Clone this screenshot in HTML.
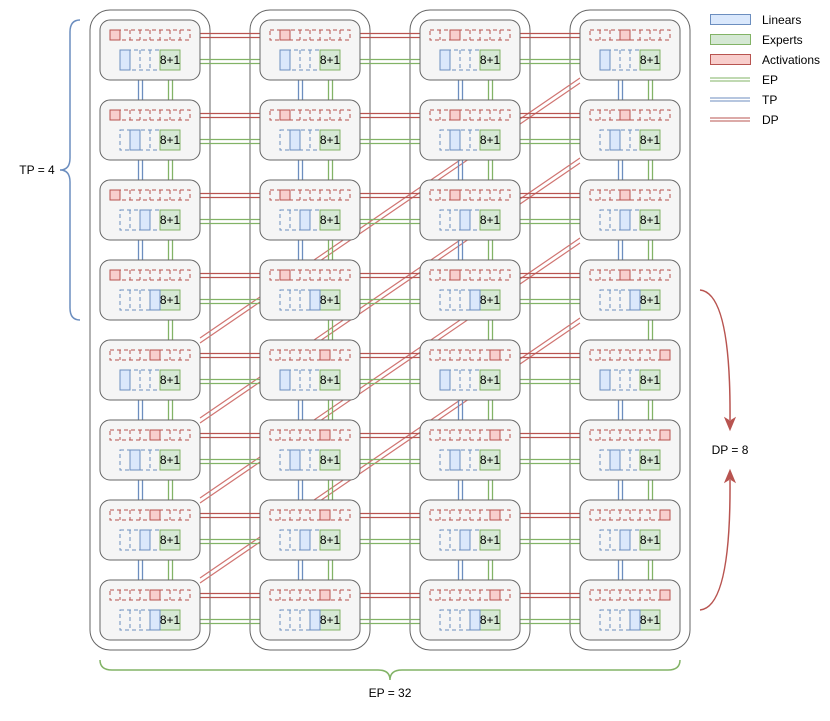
<!DOCTYPE html>
<html><head><meta charset="utf-8"><style>
html,body{margin:0;padding:0;background:#fff;}
svg{display:block;font-family:"Liberation Sans",sans-serif;}
.t{font-size:12px;text-anchor:middle;fill:#000;}
</style></head><body>
<svg width="830" height="721" viewBox="0 0 830 721" xmlns="http://www.w3.org/2000/svg">
<defs>
<g id="b">
<rect x="0" y="0" width="100" height="60" rx="10" fill="#f5f5f5" stroke="#666" stroke-width="1"/>
<path d="M10 10h80v10h-80zM20 10v10M30 10v10M40 10v10M50 10v10M60 10v10M70 10v10M80 10v10" fill="none" stroke="#b85450" stroke-width="1" stroke-dasharray="4 3"/>
<path d="M20 30h40v20h-40zM30 30v20M40 30v20M50 30v20" fill="none" stroke="#6c8ebf" stroke-width="1" stroke-dasharray="4 3"/>
<rect x="60" y="30" width="20" height="20" fill="#d5e8d4" stroke="#82b366"/>
</g>
</defs>
<g fill="none" stroke="#666" stroke-width="1">
<rect x="90" y="10" width="120" height="640" rx="20"/>
<rect x="250" y="10" width="120" height="640" rx="20"/>
<rect x="410" y="10" width="120" height="640" rx="20"/>
<rect x="570" y="10" width="120" height="640" rx="20"/>
</g>
<g stroke="#d07572" stroke-width="1.2">
<path d="M200 338L580 78M200 343L580 83"/>
<path d="M200 418L580 158M200 423L580 163"/>
<path d="M200 498L580 238M200 503L580 243"/>
<path d="M200 578L580 318M200 583L580 323"/>
</g>
<g stroke-width="1.3" fill="none">
<path stroke="#b85450" d="M100 33.5H680M100 37.5H680M100 113.5H680M100 117.5H680M100 193.5H680M100 197.5H680M100 273.5H680M100 277.5H680M100 353.5H680M100 357.5H680M100 433.5H680M100 437.5H680M100 513.5H680M100 517.5H680M100 593.5H680M100 597.5H680"/>
<path stroke="#82b366" d="M100 59.5H680M100 63.5H680M100 139.5H680M100 143.5H680M100 219.5H680M100 223.5H680M100 299.5H680M100 303.5H680M100 379.5H680M100 383.5H680M100 459.5H680M100 463.5H680M100 539.5H680M100 543.5H680M100 619.5H680M100 623.5H680"/>
<path stroke="#82b366" d="M168.5 20V640M172.5 20V640M328.5 20V640M332.5 20V640M488.5 20V640M492.5 20V640M648.5 20V640M652.5 20V640"/>
<path stroke="#6c8ebf" d="M138.5 20V320M142.5 20V320M138.5 340V640M142.5 340V640M298.5 20V320M302.5 20V320M298.5 340V640M302.5 340V640M458.5 20V320M462.5 20V320M458.5 340V640M462.5 340V640M618.5 20V320M622.5 20V320M618.5 340V640M622.5 340V640"/>
</g>
<g>
<use href="#b" x="100" y="20"/><use href="#b" x="260" y="20"/><use href="#b" x="420" y="20"/><use href="#b" x="580" y="20"/>
<use href="#b" x="100" y="100"/><use href="#b" x="260" y="100"/><use href="#b" x="420" y="100"/><use href="#b" x="580" y="100"/>
<use href="#b" x="100" y="180"/><use href="#b" x="260" y="180"/><use href="#b" x="420" y="180"/><use href="#b" x="580" y="180"/>
<use href="#b" x="100" y="260"/><use href="#b" x="260" y="260"/><use href="#b" x="420" y="260"/><use href="#b" x="580" y="260"/>
<use href="#b" x="100" y="340"/><use href="#b" x="260" y="340"/><use href="#b" x="420" y="340"/><use href="#b" x="580" y="340"/>
<use href="#b" x="100" y="420"/><use href="#b" x="260" y="420"/><use href="#b" x="420" y="420"/><use href="#b" x="580" y="420"/>
<use href="#b" x="100" y="500"/><use href="#b" x="260" y="500"/><use href="#b" x="420" y="500"/><use href="#b" x="580" y="500"/>
<use href="#b" x="100" y="580"/><use href="#b" x="260" y="580"/><use href="#b" x="420" y="580"/><use href="#b" x="580" y="580"/>
</g>
<g fill="#f8cecc" stroke="#b85450">
<rect x="110" y="30" width="10" height="10"/><rect x="280" y="30" width="10" height="10"/><rect x="450" y="30" width="10" height="10"/><rect x="620" y="30" width="10" height="10"/>
<rect x="110" y="110" width="10" height="10"/><rect x="280" y="110" width="10" height="10"/><rect x="450" y="110" width="10" height="10"/><rect x="620" y="110" width="10" height="10"/>
<rect x="110" y="190" width="10" height="10"/><rect x="280" y="190" width="10" height="10"/><rect x="450" y="190" width="10" height="10"/><rect x="620" y="190" width="10" height="10"/>
<rect x="110" y="270" width="10" height="10"/><rect x="280" y="270" width="10" height="10"/><rect x="450" y="270" width="10" height="10"/><rect x="620" y="270" width="10" height="10"/>
<rect x="150" y="350" width="10" height="10"/><rect x="320" y="350" width="10" height="10"/><rect x="490" y="350" width="10" height="10"/><rect x="660" y="350" width="10" height="10"/>
<rect x="150" y="430" width="10" height="10"/><rect x="320" y="430" width="10" height="10"/><rect x="490" y="430" width="10" height="10"/><rect x="660" y="430" width="10" height="10"/>
<rect x="150" y="510" width="10" height="10"/><rect x="320" y="510" width="10" height="10"/><rect x="490" y="510" width="10" height="10"/><rect x="660" y="510" width="10" height="10"/>
<rect x="150" y="590" width="10" height="10"/><rect x="320" y="590" width="10" height="10"/><rect x="490" y="590" width="10" height="10"/><rect x="660" y="590" width="10" height="10"/>
</g>
<g fill="#dae8fc" stroke="#6c8ebf">
<rect x="120" y="50" width="10" height="20"/><rect x="280" y="50" width="10" height="20"/><rect x="440" y="50" width="10" height="20"/><rect x="600" y="50" width="10" height="20"/>
<rect x="130" y="130" width="10" height="20"/><rect x="290" y="130" width="10" height="20"/><rect x="450" y="130" width="10" height="20"/><rect x="610" y="130" width="10" height="20"/>
<rect x="140" y="210" width="10" height="20"/><rect x="300" y="210" width="10" height="20"/><rect x="460" y="210" width="10" height="20"/><rect x="620" y="210" width="10" height="20"/>
<rect x="150" y="290" width="10" height="20"/><rect x="310" y="290" width="10" height="20"/><rect x="470" y="290" width="10" height="20"/><rect x="630" y="290" width="10" height="20"/>
<rect x="120" y="370" width="10" height="20"/><rect x="280" y="370" width="10" height="20"/><rect x="440" y="370" width="10" height="20"/><rect x="600" y="370" width="10" height="20"/>
<rect x="130" y="450" width="10" height="20"/><rect x="290" y="450" width="10" height="20"/><rect x="450" y="450" width="10" height="20"/><rect x="610" y="450" width="10" height="20"/>
<rect x="140" y="530" width="10" height="20"/><rect x="300" y="530" width="10" height="20"/><rect x="460" y="530" width="10" height="20"/><rect x="620" y="530" width="10" height="20"/>
<rect x="150" y="610" width="10" height="20"/><rect x="310" y="610" width="10" height="20"/><rect x="470" y="610" width="10" height="20"/><rect x="630" y="610" width="10" height="20"/>
</g>
<g class="t">
<text x="170" y="64">8+1</text><text x="330" y="64">8+1</text><text x="490" y="64">8+1</text><text x="650" y="64">8+1</text>
<text x="170" y="144">8+1</text><text x="330" y="144">8+1</text><text x="490" y="144">8+1</text><text x="650" y="144">8+1</text>
<text x="170" y="224">8+1</text><text x="330" y="224">8+1</text><text x="490" y="224">8+1</text><text x="650" y="224">8+1</text>
<text x="170" y="304">8+1</text><text x="330" y="304">8+1</text><text x="490" y="304">8+1</text><text x="650" y="304">8+1</text>
<text x="170" y="384">8+1</text><text x="330" y="384">8+1</text><text x="490" y="384">8+1</text><text x="650" y="384">8+1</text>
<text x="170" y="464">8+1</text><text x="330" y="464">8+1</text><text x="490" y="464">8+1</text><text x="650" y="464">8+1</text>
<text x="170" y="544">8+1</text><text x="330" y="544">8+1</text><text x="490" y="544">8+1</text><text x="650" y="544">8+1</text>
<text x="170" y="624">8+1</text><text x="330" y="624">8+1</text><text x="490" y="624">8+1</text><text x="650" y="624">8+1</text>
</g>
<path d="M80 20Q70 20 70 32V158Q70 170 60 170Q70 170 70 182V308Q70 320 80 320" fill="none" stroke="#6c8ebf" stroke-width="1.5"/>
<text x="37" y="174" font-size="12" text-anchor="middle">TP = 4</text>
<path d="M100 660Q100 670 112 670H378Q390 670 390 680Q390 670 402 670H668Q680 670 680 660" fill="none" stroke="#82b366" stroke-width="1.5"/>
<text x="390" y="697" font-size="12" text-anchor="middle">EP = 32</text>
<g fill="none" stroke="#b85450" stroke-width="1.5">
<path d="M700 290Q731 293 730 420"/>
<path d="M700 610Q731 607 730 480"/>
</g>
<path d="M725 418L730 430L735 418L730 421Z" fill="#b85450" stroke="#b85450"/>
<path d="M725 482L730 470L735 482L730 479Z" fill="#b85450" stroke="#b85450"/>
<text x="730" y="454" font-size="12" text-anchor="middle">DP = 8</text>
<rect x="710.5" y="14.5" width="40" height="10" fill="#dae8fc" stroke="#6c8ebf"/>
<rect x="710.5" y="34.5" width="40" height="10" fill="#d5e8d4" stroke="#82b366"/>
<rect x="710.5" y="54.5" width="40" height="10" fill="#f8cecc" stroke="#b85450"/>
<path d="M710 78H750M710 81H750" stroke="#82b366"/>
<path d="M710 98H750M710 101H750" stroke="#6c8ebf"/>
<path d="M710 118H750M710 121H750" stroke="#b85450"/>
<g font-size="12">
<text x="762" y="24">Linears</text>
<text x="762" y="44">Experts</text>
<text x="762" y="64">Activations</text>
<text x="762" y="84">EP</text>
<text x="762" y="104">TP</text>
<text x="762" y="124">DP</text>
</g>
</svg>
</body></html>
